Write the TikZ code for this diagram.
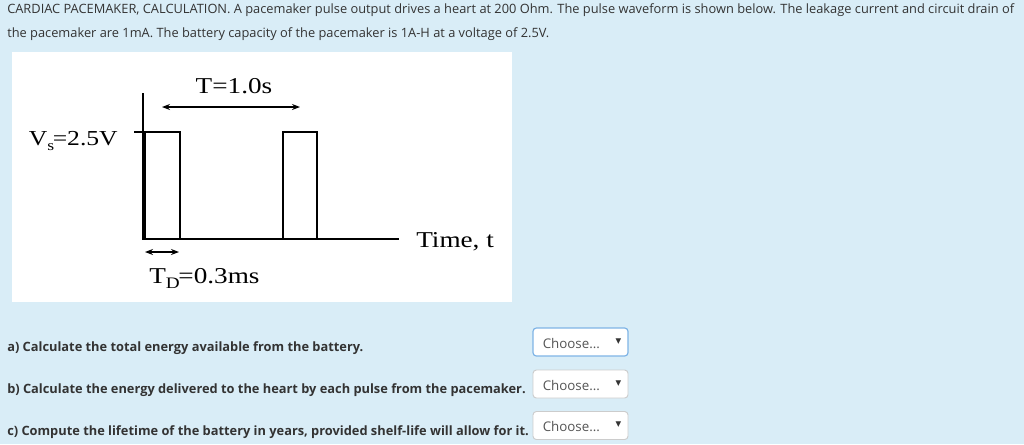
\documentclass[tikz,border=0pt]{standalone}
\usepackage{fontspec}
\setmainfont{Open Sans}
\newfontfamily\tnr[FakeStretch=1.2]{Liberation Serif}
\newfontfamily\dejavu{DejaVu Sans}
\usetikzlibrary{arrows.meta}
\definecolor{bg}{HTML}{D9EDF7}
\definecolor{txt}{HTML}{333333}
\definecolor{selborder}{HTML}{CCCCCC}
\definecolor{focusborder}{HTML}{7FB4E6}
\definecolor{seltxt}{HTML}{555555}
\begin{document}
\begin{tikzpicture}[x=0.75pt,y=-0.75pt,
  body/.style={anchor=base west,inner sep=0pt,text=txt,font=\fontsize{9.62}{12}\selectfont},
  qtext/.style={anchor=base west,inner sep=0pt,text=txt,font=\fontsize{9.62}{12}\selectfont\bfseries},
  serif/.style={inner sep=0pt,text=black,font=\tnr\fontsize{17}{18}\selectfont},
  wave/.style={draw=black,line width=1.1pt},
  dim/.style={draw=black,line width=0.9pt,{Stealth[length=6pt,width=4.5pt]}-{Stealth[length=6pt,width=4.5pt]}},
  selbox/.style={draw=selborder,fill=white,rounded corners=2.5pt,line width=0.7pt,minimum width=71.25pt,minimum height=21pt,inner sep=0pt},
  seltext/.style={anchor=base west,inner sep=0pt,text=seltxt,font=\fontsize{10}{12}\selectfont},
  selarrow/.style={inner sep=0pt,text=txt,font=\dejavu\fontsize{5.5}{6}\selectfont}
]
\useasboundingbox[fill=bg] (0,0) rectangle (1024,444);
% header text
\node[body] (l1) at (7,13.5) {CARDIAC PACEMAKER, CALCULATION. A pacemaker pulse output drives a heart at 200 Ohm. The pulse waveform is shown below. The leakage current and circuit drain of};
\node[body] (l2) at (7,37) {the pacemaker are 1mA. The battery capacity of the pacemaker is 1A-H at a voltage of 2.5V.};
% white figure panel
\fill[white] (12,52) rectangle (512,302);
% axes
\coordinate (o) at (143,239);
\coordinate (ytop) at (143,93);
\coordinate (xend) at (399,239);
\draw[wave] (ytop) -- (o) -- (xend);
\coordinate (tick) at (134,132);
\coordinate (tickend) at (143,132);
\draw[wave] (tick) -- (tickend);
% pulses
\coordinate (p1a) at (145,239);
\coordinate (p1b) at (180,239);
\draw[wave] (p1a) -- (145,132) -- (180,132) -- (p1b);
\coordinate (p2a) at (283,239);
\coordinate (p2b) at (317,239);
\draw[wave] (p2a) -- (283,132) -- (317,132) -- (p2b);
% dimension arrows
\coordinate (ta) at (162,107);
\coordinate (tb) at (300,107);
\draw[dim] (ta) -- (tb);
\coordinate (da) at (145,252);
\coordinate (db) at (179,252);
\draw[dim] (da) -- (db);
% labels
\node[serif,anchor=base] (tlab) at (234,93.5) {T=1.0s};
\node[serif,anchor=base east,font=\tnr\fontsize{16}{18}\selectfont] (vlab) at (118,145) {V\raisebox{-0.6ex}{\fontsize{11}{12}\selectfont s}\kern-1pt=2.5V};
\node[serif,anchor=base west] (timelab) at (416,247) {Time, t};
\node[serif,anchor=base west] (tdlab) at (149,283) {T\raisebox{-0.5ex}{\fontsize{12}{12}\selectfont D}\kern-1pt=0.3ms};
% questions
\node[qtext] (qa) at (7,351.5) {a) Calculate the total energy available from the battery.};
\node[qtext] (qb) at (7,393.5) {b) Calculate the energy delivered to the heart by each pulse from the pacemaker.};
\node[qtext] (qc) at (7,435.5) {c) Compute the lifetime of the battery in years, provided shelf-life will allow for it.};
% select boxes
\node[selbox,draw=focusborder,line width=0.9pt] (s1) at (580.5,342) {};
\node[selbox] (s2) at (580.5,384) {};
\node[selbox] (s3) at (580.5,425.5) {};
\foreach \n in {s1,s2,s3}{
  \node[seltext] (\n t) at ([xshift=-28.5pt,yshift=-4.7pt]\n.center) {Choose...};
  \node[selarrow] (\n a) at ([xshift=28.5pt,yshift=0.6pt]\n.center) {▼};
}
\end{tikzpicture}
\end{document}
